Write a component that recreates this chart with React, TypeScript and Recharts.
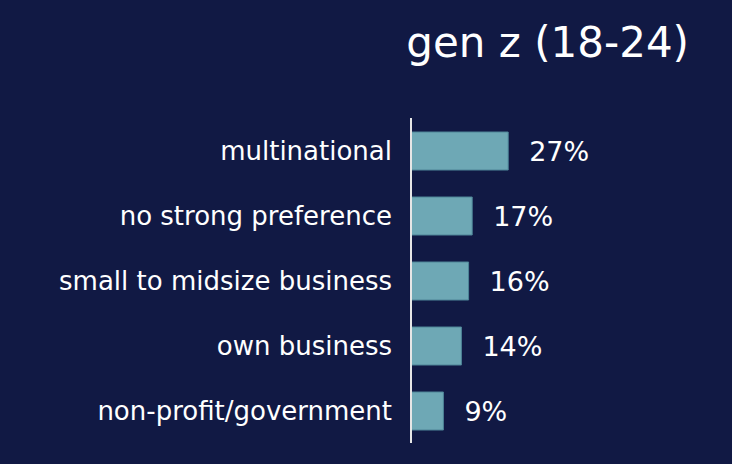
import React from 'react';
import { BarChart, Bar, XAxis, YAxis, LabelList } from 'recharts';

const categories = ['multinational', 'no strong preference', 'small to midsize business', 'own business', 'non-profit/government'];
const values = [27, 17, 16, 14, 9];
const title = 'gen z (18-24)';

const data = categories.map((name, i) => ({ name, value: values[i] }));

const FONT = '"DejaVu Sans", Verdana, sans-serif';

export default function App() {
  return (
    <div style={{ position: 'absolute', left: 0, top: 0, width: 732, height: 464, background: '#111944', overflow: 'hidden', fontFamily: FONT }}>
      <div style={{ position: 'absolute', right: 43, top: 22, color: '#FFFFFF', fontSize: 42, lineHeight: '42px', whiteSpace: 'nowrap' }}>{title}</div>
      <BarChart width={732} height={464} data={data} layout="vertical" margin={{ top: 118, right: 33, bottom: 21, left: 0 }} barSize={38}>
        <XAxis type="number" domain={[0, 80]} hide />
        <YAxis
          type="category"
          dataKey="name"
          width={411}
          tickLine={false}
          tickSize={0}
          tickMargin={19}
          axisLine={{ stroke: '#E6E6E6', strokeWidth: 2 }}
          tick={{ fill: '#FFFFFF', fontSize: 26, fontFamily: FONT }}
          interval={0}
        />
        <Bar dataKey="value" fill="#6EA8B5" stroke="#4E8597" strokeWidth={1} isAnimationActive={false}>
          <LabelList dataKey="value" position="right" offset={21} fill="#FFFFFF" fontSize={27} fontFamily={FONT} formatter={(v: number) => `${v}%`} />
        </Bar>
      </BarChart>
    </div>
  );
}
